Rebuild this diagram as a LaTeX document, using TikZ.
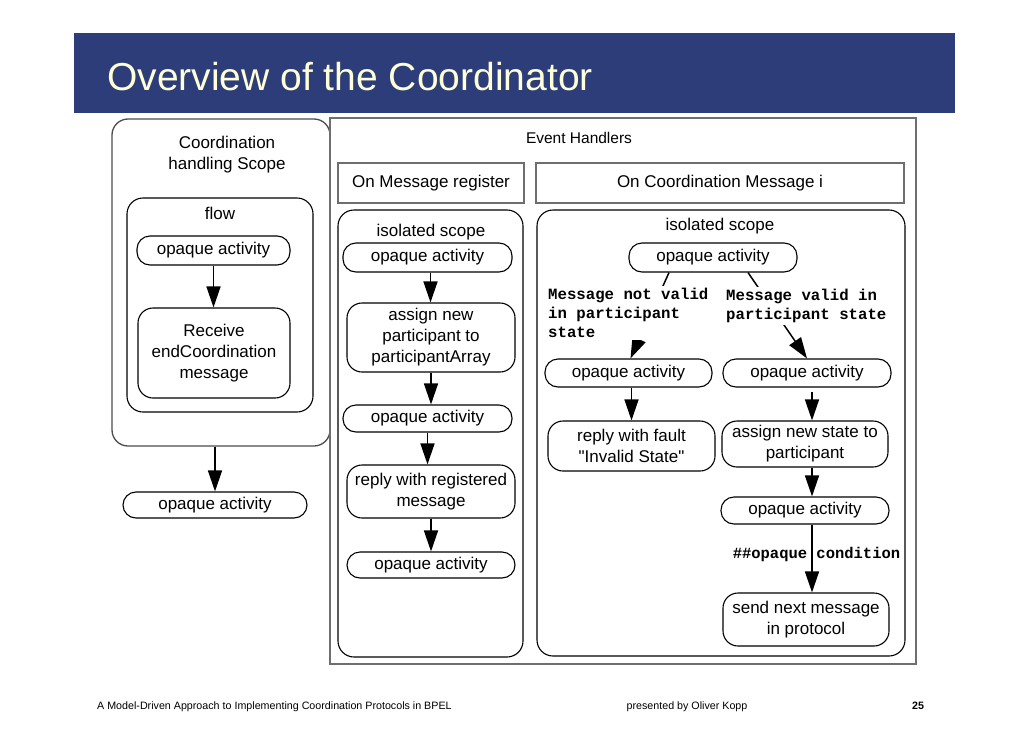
\documentclass[tikz,border=0pt]{standalone}
\usepackage{fontspec}
\setmainfont{Liberation Sans}
\newfontfamily\qfont{Liberation Sans}
\newfontfamily\monofont{Liberation Mono}
\usetikzlibrary{arrows.meta,calc}
\definecolor{banner}{RGB}{44,61,122}
\definecolor{titlecol}{RGB}{255,255,215}
\definecolor{framegray}{RGB}{110,110,110}
\tikzset{
  txt/.style={font=\fontsize{17}{21}\selectfont, align=center, inner sep=0pt},
  actbox/.style={draw=black, line width=1.1pt, rounded corners=15pt, align=center, inner sep=0pt, font=\fontsize{17}{21}\selectfont},
  stadium/.style={draw=black, line width=1.1pt, rounded corners=13pt, align=center, inner sep=0pt, font=\fontsize{17}{21}\selectfont},
  scopebox/.style={draw=black, line width=1.1pt, rounded corners=16pt, inner sep=0pt},
  graybox/.style={draw=framegray, line width=1.1pt, inner sep=0pt},
  graybig/.style={draw=framegray, line width=1.3pt, rounded corners=16pt, inner sep=0pt},
  arr/.style={line width=1.5pt, -{Triangle[length=21pt,width=14pt]}},
  cond/.style={font=\monofont\bfseries\fontsize{15.7}{19}\selectfont, align=left, inner sep=0pt},
  foot/.style={font=\fontsize{10.7}{12}\selectfont, inner sep=0pt}
}
\begin{document}
\begin{tikzpicture}[x=1pt,y=-1pt]
\useasboundingbox (0,0) rectangle (1030,728);
% banner
\node[fill=banner, minimum width=881pt, minimum height=80pt, inner sep=0pt] (banner) at (514.5,73) {};
\node[anchor=base west, text=titlecol, font=\fontsize{39}{44}\selectfont, inner sep=0pt] (title) at (107,90) {Overview of the Coordinator};

% ---- left column
\node[graybig, draw=black!70, minimum width=218pt, minimum height=327pt] (chs) at (221,282.5) {};
\node[txt] (chslabel) at (227,155) {Coordination\\handling Scope};
\node[scopebox, minimum width=186pt, minimum height=214pt] (flow) at (220,305) {};
\node[txt] (flowlabel) at (220,213) {flow};
\node[stadium, minimum width=153pt, minimum height=29pt] (oa1) at (213.5,250.5) {opaque activity};
\node[actbox, minimum width=152pt, minimum height=90pt] (recv) at (214,353) {Receive\\endCoordination\\message};
\node[stadium, minimum width=184pt, minimum height=26pt] (oa2) at (215,505) {opaque activity};
\draw[arr] (oa1.south) -- (oa1.south |- recv.north);
\draw[arr] (oa2.north |- chs.south) -- (oa2.north);

% ---- event handlers
\node[graybox, minimum width=586pt, minimum height=546pt] (eh) at (623,391) {};
\node[txt, font=\fontsize{15.5}{19}\selectfont] (ehlabel) at (579,138) {Event Handlers};
\node[graybox, minimum width=186pt, minimum height=40pt, font=\fontsize{17}{21}\selectfont] (omr) at (431,183) {On Message register};
\node[graybox, minimum width=368pt, minimum height=40pt, font=\fontsize{17}{21}\selectfont] (ocm) at (720,183) {On Coordination Message i};

% left isolated scope
\node[scopebox, minimum width=185pt, minimum height=447pt] (is1) at (430.5,433.5) {};
\node[txt] (is1label) at (431,232) {isolated scope};
\node[stadium, minimum width=169pt, minimum height=29pt] (a1) at (427.5,257.5) {opaque activity};
\node[actbox, minimum width=168pt, minimum height=69pt] (a2) at (431,337.5) {assign new\\participant to\\participantArray};
\node[stadium, minimum width=169pt, minimum height=27pt] (a3) at (427.5,418.5) {opaque activity};
\node[actbox, minimum width=168pt, minimum height=53pt] (a4) at (431,491.5) {reply with registered\\message};
\node[stadium, minimum width=168pt, minimum height=26pt] (a5) at (431,565) {opaque activity};
\draw[arr] ([xshift=3pt]a1.south) -- ([xshift=3pt]a1.south |- a2.north);
\draw[arr] (a2.south) -- (a2.south |- a3.north);
\draw[arr] (a3.south) -- (a3.south |- a4.north);
\draw[arr] (a4.south) -- (a5.north);

% right isolated scope
\node[scopebox, minimum width=368pt, minimum height=446pt] (is2) at (721,433) {};
\node[txt] (is2label) at (720,226) {isolated scope};
\node[stadium, minimum width=168pt, minimum height=29pt] (b1) at (713,257.5) {opaque activity};
\node[stadium, minimum width=167pt, minimum height=28pt] (b2) at (628.5,373) {opaque activity};
\node[stadium, minimum width=168pt, minimum height=28pt] (b3) at (807,373) {opaque activity};
\node[actbox, minimum width=167pt, minimum height=50pt] (b4) at (631.5,446) {reply with fault\\{\qfont"Invalid State"}};
\node[actbox, minimum width=166pt, minimum height=46pt] (b5) at (805,444) {assign new state to\\participant};
\node[stadium, minimum width=168pt, minimum height=27pt] (b6) at (805,510.5) {opaque activity};
\node[actbox, minimum width=166pt, minimum height=53pt] (b7) at (806,619.5) {send next message\\in protocol};

\draw[arr] ([xshift=-44pt]b1.south) -- ([xshift=2pt]b2.north);
\draw[arr] ([xshift=35pt]b1.south) -- (b3.north);
\node[cond, fill=white, anchor=west, inner ysep=2pt] (lnot) at (548,313) {Message not valid\\in participant\\state};
\node[cond, fill=white, anchor=west, inner ysep=2pt] (lval) at (726,306) {Message valid in\\participant state};

\draw[arr] ([xshift=3pt]b2.south) -- ([xshift=3pt]b2.south |- b4.north);
\draw[arr] ([xshift=5pt,yshift=-4pt]b3.south) -- ([xshift=5pt]b3.south |- b5.north);
\draw[arr] ([xshift=7pt]b5.south) -- ([xshift=7pt]b5.south |- b6.north);
\draw[arr] ([xshift=7pt]b6.south) -- ([xshift=7pt]b6.south |- b7.north);
\node[cond, font=\monofont\bfseries\fontsize{15.5}{19}\selectfont] (lcond) at (816.5,554) {\#\#opaque condition};

% footer
\node[foot, anchor=base west] (f1) at (97,709) {A Model-Driven Approach to Implementing Coordination Protocols in BPEL};
\node[foot, anchor=base] (f2) at (687,709) {presented by Oliver Kopp};
\node[foot, anchor=base, font=\bfseries\fontsize{10.7}{12}\selectfont] (f3) at (918,709) {25};
\end{tikzpicture}
\end{document}
